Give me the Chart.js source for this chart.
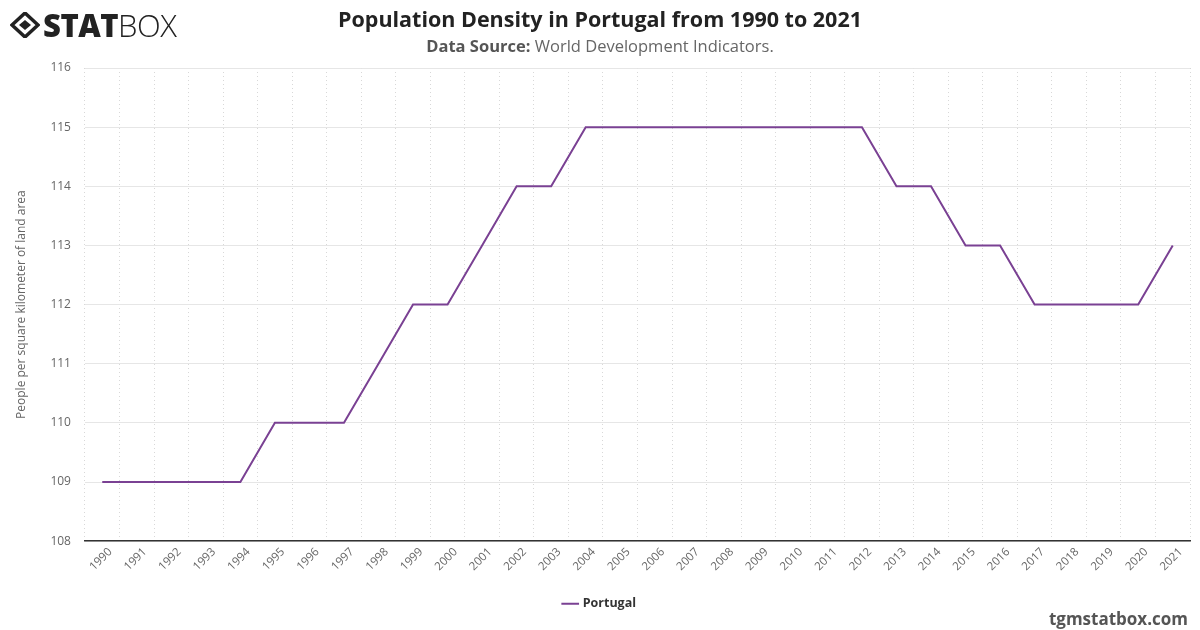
<!DOCTYPE html>
<html>
<head>
<meta charset="utf-8">
<script src="https://cdn.jsdelivr.net/npm/chart.js@4.4.0/dist/chart.umd.min.js"></script>
<style>
  body { margin: 0; background: #fff; font-family: "Open Sans", sans-serif; }
  #wrap { position: relative; width: 1200px; height: 630px; }
  #logo { position: absolute; left: 10px; top: 4px; font-size: 31px; color: #222; letter-spacing: -0.5px; display: flex; align-items: center; }
  #logo b { font-weight: 800; }
  #logo span { font-weight: 300; }
  #title { position: absolute; left: 0; width: 1200px; top: 4px; text-align: center; font-size: 21.5px; font-weight: 700; color: #222; }
  #subtitle { position: absolute; left: 0; width: 1200px; top: 34px; text-align: center; font-size: 16.5px; color: #666; }
  #subtitle b { color: #555; }
  #footer { position: absolute; right: 12px; top: 607px; font-size: 17px; font-weight: 700; color: #555; }
  canvas { position: absolute; left: 0; top: 0; }
</style>
</head>
<body>
<div id="wrap">
  <canvas id="chart" width="1200" height="630"></canvas>
  <div id="logo">
    <svg width="30" height="26" viewBox="0 0 30 26" style="margin-right:3px">
      <polygon points="15,1 28,13 15,25 2,13" fill="none" stroke="#222" stroke-width="3.5"/>
      <polygon points="15,8 21,13 15,18 9,13" fill="#222"/>
    </svg><b>STAT</b><span>BOX</span>
  </div>
  <div id="title">Population Density in Portugal from 1990 to 2021</div>
  <div id="subtitle"><b>Data Source:</b> World Development Indicators.</div>
  <div id="footer">tgmstatbox.com</div>
</div>
<script>
// Data
const years = ['1990','1991','1992','1993','1994','1995','1996','1997','1998','1999','2000',
  '2001','2002','2003','2004','2005','2006','2007','2008','2009','2010',
  '2011','2012','2013','2014','2015','2016','2017','2018','2019','2020','2021'];
const portugal = [109,109,109,109,109,110,110,110,111,112,112,
  113,114,114,115,115,115,115,115,115,115,
  115,115,114,114,113,113,112,112,112,112,113];
const yTicks = [108,109,110,111,112,113,114,115,116];

const ctx = document.getElementById('chart').getContext('2d');
new Chart(ctx, {
  type: 'line',
  data: {
    labels: years,
    datasets: [{
      label: 'Portugal',
      data: portugal,
      borderColor: '#7a4193',
      backgroundColor: '#7a4193',
      borderWidth: 2,
      pointRadius: 0,
      tension: 0
    }]
  },
  options: {
    responsive: false,
    animation: false,
    layout: { padding: { top: 68, left: 10, right: 10, bottom: 10 } },
    plugins: {
      legend: {
        position: 'bottom',
        labels: {
          usePointStyle: true,
          pointStyle: 'line',
          boxWidth: 18,
          color: '#333',
          font: { family: 'Open Sans', size: 12.5, weight: 'bold' },
          padding: 20
        }
      },
      tooltip: { enabled: false }
    },
    scales: {
      x: {
        offset: true,
        grid: { offset: true, color: '#d8d8d8', drawTicks: false },
        border: { color: '#333', width: 1.5, dash: [1, 3] },
        ticks: {
          color: '#666',
          font: { family: 'Open Sans', size: 11.5 },
          maxRotation: 45, minRotation: 45,
          autoSkip: false,
          labelOffset: 8,
          padding: 4
        }
      },
      y: {
        min: 108, max: 116,
        afterBuildTicks: axis => { axis.ticks = yTicks.map(v => ({ value: v })); },
        grid: { color: '#e6e6e6', drawTicks: false },
        border: { display: false },
        ticks: {
          color: '#666',
          font: { family: 'Open Sans', size: 12 },
          padding: 14
        },
        title: {
          display: true,
          text: 'People per square kilometer of land area',
          color: '#666',
          font: { family: 'Open Sans', size: 12 },
          padding: { bottom: 8 }
        }
      }
    }
  }
});
</script>
</body>
</html>
